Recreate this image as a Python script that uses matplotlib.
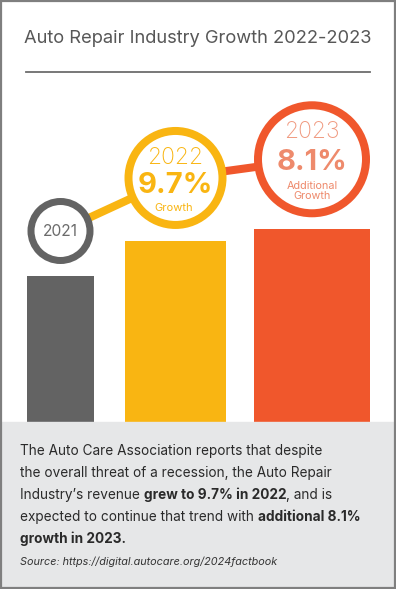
import matplotlib.pyplot as plt
from matplotlib.patches import Circle, Rectangle

plt.rcParams['font.family'] = ['Inter', 'DejaVu Sans']

# Data
years = ["2021", "2022", "2023"]
revenue_index = [100, 124, 132]          # relative revenue (2021 = 100)
big_labels = ["", "9.7%", "8.1%"]
small_labels = ["", "Growth", "Additional\nGrowth"]

# Style / layout
bar_colors = ["#636363", "#F9B512", "#F0572C"]
text_colors = ["#6b6b6b", "#F9B512", "#EE8A6C"]
bar_x = [60.5, 175.5, 312]
bar_w = [67, 101, 116]
ring_r = [33, 51, 58]

W, H = 396, 589
fig = plt.figure(figsize=(W / 100, H / 100), dpi=100)
fig.patch.set_facecolor("white")

# bar axes (pixel x, value y)
base_px = 422
px_per_unit = 1.46
ax = fig.add_axes([27 / W, (H - base_px) / H, (370 - 27) / W, 200 / H])
ax.set_xlim(27, 370)
ax.set_ylim(0, 200 / px_per_unit)
ax.axis("off")
ax.bar(bar_x, revenue_index, width=bar_w, color=bar_colors, zorder=1)

# overlay axes in pixel coords, y going down
deco = fig.add_axes([0, 0, 1, 1], zorder=2)
deco.set_xlim(0, W)
deco.set_ylim(H, 0)
deco.axis("off")
deco.patch.set_alpha(0)

# grey text box + border
deco.add_patch(Rectangle((0, base_px), W, H - base_px, color="#E6E7E8", zorder=0))
deco.add_patch(Rectangle((1, 1), W - 2.5, H - 2.5, fill=False, ec="#7f7f7f", lw=1.6, zorder=5))

# title + rule
deco.text(W / 2 - 0.5, 43, "Auto Repair Industry Growth 2022-2023", ha="center", va="baseline",
          fontsize=13.2, color="#575757")
deco.plot([26, 370], [72, 72], color="#6d6d6d", lw=1.3)

# circle centres from bar tops
centres = []
for x, v, r in zip(bar_x, revenue_index, ring_r):
    top = H - ax.transData.transform((x, v))[1]
    centres.append((x, top - 12 - r))

# connector lines
for i in range(2):
    (x0, y0), (x1, y1) = centres[i], centres[i + 1]
    deco.plot([x0, x1], [y0, y1], color=bar_colors[i + 1], lw=5.8, solid_capstyle="butt", zorder=2)

for i, ((cx, cy), r) in enumerate(zip(centres, ring_r)):
    lw_px = 7 if i == 0 else 8
    deco.add_patch(Circle((cx, cy), r - lw_px / 2, fc="white", ec=bar_colors[i],
                          lw=lw_px * 0.72, zorder=3))

# circle texts
c = centres
deco.text(c[0][0], c[0][1] + 1, years[0], ha="center", va="center", fontsize=11.2,
          color=text_colors[0], zorder=4)
deco.text(c[1][0], c[1][1] - 20, years[1], ha="center", va="center", fontsize=16.5,
          fontweight="light", color=text_colors[1], zorder=4)
deco.text(c[1][0], c[1][1] + 8, big_labels[1], ha="center", va="center", fontsize=21,
          fontweight="bold", color=text_colors[1], zorder=4)
deco.text(c[1][0] - 2, c[1][1] + 30, small_labels[1], ha="center", va="center", fontsize=8,
          color=text_colors[1], zorder=4)
deco.text(c[2][0], c[2][1] - 27, years[2], ha="center", va="center", fontsize=16.5,
          fontweight="light", color="#F09A80", zorder=4)
deco.text(c[2][0], c[2][1] + 3, big_labels[2], ha="center", va="center", fontsize=21,
          fontweight="bold", color=text_colors[2], zorder=4)
deco.text(c[2][0], c[2][1] + 32, small_labels[2], ha="center", va="center", fontsize=7.8,
          color=text_colors[2], linespacing=1.05, zorder=4)

# body paragraph with bold runs
body = [
    [("The Auto Care Association reports that despite", "normal")],
    [("the overall threat of a recession, the Auto Repair", "normal")],
    [("Industry\u2019s revenue ", "normal"), ("grew to 9.7% in 2022", "bold"), (", and is", "normal")],
    [("expected to continue that trend with ", "normal"), ("additional 8.1%", "bold")],
    [("growth in 2023.", "bold")],
]
renderer = fig.canvas.get_renderer()


def text_width(s, wt):
    t = deco.text(0, 0, s, fontsize=9.8, fontweight=wt)
    w = t.get_window_extent(renderer).width
    t.remove()
    return w


space_w = text_width("a a", "normal") - text_width("aa", "normal")

y = 455
for line in body:
    x = 20
    for txt, wt in line:
        t = deco.text(x, y, txt, ha="left", va="baseline", fontsize=9.8,
                      fontweight=wt, color="#2a2a2a")
        stripped = txt.rstrip(" ")
        x += text_width(stripped, wt) + space_w * (len(txt) - len(stripped))
    y += 22

deco.text(20, 565, "Source: https://digital.autocare.org/2024factbook", ha="left", va="baseline",
          fontsize=7.8, style="italic", color="#333333")

fig.savefig("out.png", dpi=100)
